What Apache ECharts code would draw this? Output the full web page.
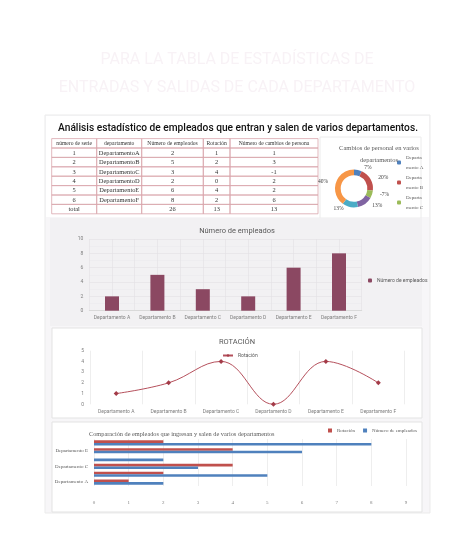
<!DOCTYPE html>
<html><head><meta charset="utf-8">
<script src="https://cdn.jsdelivr.net/npm/echarts@6/dist/echarts.min.js"></script>
<style>html,body{margin:0;padding:0;background:#fff}#c{width:474px;height:551px}</style>
</head><body><div id="c"></div>
<script>
// ---- data ----
const departments = ['Departamento A','Departamento B','Departamento C','Departamento D','Departamento E','Departamento F'];
const tableDeptNames = ['DepartamentoA','DepartamentoB','DepartamentoC','DepartamentoD','DepartamentoE','DepartamentoF'];
const serialNumbers = [1,2,3,4,5,6];
const employees = [2,5,3,2,6,8];
const rotation = [1,2,4,0,4,2];
const staffChanges = [1,3,-1,2,2,6];
const tableHeaders = ['número de serie','departamento','Número de empleados','Rotación','Número de cambios de persona'];
const totalLabel = 'total';
const totals = [26,13,13];
const barTicks = [0,2,4,6,8,10];
const lineTicks = [0,1,2,3,4,5];
const hbarTicks = [0,1,2,3,4,5,6,7,8,9];

const pieColors = ['#4f81bd','#c0504d','#9bbb59','#8064a2','#4bacc6','#f79646'];
const serif = '"Liberation Serif","DejaVu Serif",serif';
const sans = 'Roboto,"Noto Sans",sans-serif';

const chart = echarts.init(document.getElementById('c'));

// ---- graphic: panels, headings, table ----
const g = [];
g.push({type:'rect', z:-20, shape:{x:45,y:115,width:385,height:398}, style:{fill:'#f7f6f8', stroke:'#ebebeb', lineWidth:1}});
g.push({type:'rect', z:-19, shape:{x:46,y:116,width:383,height:101}, style:{fill:'#ffffff'}});
g.push({type:'rect', z:-18, shape:{x:320,y:137,width:101,height:81}, style:{fill:'#ffffff', stroke:'#ececec'}});
g.push({type:'rect', z:-18, shape:{x:50,y:218,width:372,height:108}, style:{fill:'#f2f1f3'}});
g.push({type:'rect', z:-18, shape:{x:52,y:328,width:370,height:90}, style:{fill:'#ffffff', stroke:'#e3e3e3'}});
g.push({type:'rect', z:-18, shape:{x:52,y:422,width:370,height:90}, style:{fill:'#ffffff', stroke:'#e3e3e3'}});

g.push({type:'text', z:-15, style:{text:'PARA LA TABLA DE ESTADÍSTICAS DE', x:237, y:60, textAlign:'center', textVerticalAlign:'middle', font:'16px '+sans, fill:'#f8f2f6'}});
g.push({type:'text', z:-15, style:{text:'ENTRADAS Y SALIDAS DE CADA DEPARTAMENTO', x:237, y:88, textAlign:'center', textVerticalAlign:'middle', font:'16px '+sans, fill:'#f8f2f6'}});
g.push({type:'text', z:5, style:{text:'Análisis estadístico de empleados que entran y salen de varios departamentos.', x:238, y:128, textAlign:'center', textVerticalAlign:'middle', font:'500 10.2px '+sans, fill:'#111'}});

const colX = [51.7, 96.7, 141.7, 203.3, 230, 318];
const rowTop = 138.6, rowH = 9.4;
const tableRows = [tableHeaders]
  .concat(serialNumbers.map((s,i)=>[s, tableDeptNames[i], employees[i], rotation[i], staffChanges[i]]))
  .concat([[totalLabel, ''].concat(totals)]);
tableRows.forEach((row, r) => {
  row.forEach((cell, c) => {
    const x = colX[c], w = colX[c+1] - colX[c], y = rowTop + r*rowH;
    g.push({type:'rect', z:-5, shape:{x:x, y:y, width:w, height:rowH}, style:{fill:'none', stroke:'#d9a6ac', lineWidth:0.8}});
    g.push({type:'text', z:-4, style:{text:String(cell), x:x+w/2, y:y+rowH/2+0.5, textAlign:'center', textVerticalAlign:'middle',
      font:(r===0?'5.6px ':'6.4px ')+serif, fill:'#333'}});
  });
});

const absSum = staffChanges.reduce((a,b)=>a+Math.abs(b),0);
const pieData = departments.map((n,i)=>({name:n, value:Math.abs(staffChanges[i]), raw:staffChanges[i]}));

const axisLbl = {fontSize:5, color:'#7f7f7f', fontFamily:sans};

const option = {
  animation:false,
  graphic:{elements:g},
  title:[
    {text:'Cambios de personal en varios\ndepartamentos', left:374, top:137, textAlign:'center',
     textStyle:{fontSize:6.5, fontWeight:'normal', color:'#595959', fontFamily:serif, lineHeight:12}},
    {text:'Número de empleados', left:'center', top:222, textStyle:{fontSize:7.5, fontWeight:'normal', color:'#595959', fontFamily:sans}},
    {text:'ROTACIÓN', left:'center', top:333, textStyle:{fontSize:7.5, fontWeight:'normal', color:'#595959', fontFamily:sans}},
    {text:'Comparación de empleados que ingresan y salen de varios departamentos', left:84, top:426,
     textStyle:{fontSize:6.3, fontWeight:'normal', color:'#595959', fontFamily:serif}}
  ],
  legend:[
    {data:departments.slice(0,3), orient:'vertical', left:397, top:153, itemWidth:4, itemHeight:4, itemGap:1,
     formatter:n=>n.slice(0,7)+'\n'+n.slice(7),
     textStyle:{fontSize:5, color:'#595959', fontFamily:serif, lineHeight:9.5}, padding:0},
    {data:['Número de empleados'], left:368, top:278, itemWidth:4, itemHeight:4, padding:0,
     textStyle:{fontSize:5, color:'#595959', fontFamily:sans}},
    {data:[{name:'Rotación'}], left:222, top:353, itemWidth:10, itemHeight:4, padding:0,
     textStyle:{fontSize:5, color:'#595959', fontFamily:sans}},
    {data:[{name:'Rotación', icon:'rect', itemStyle:{color:'#c0504d'}}, {name:'Número de empleados', icon:'rect', itemStyle:{color:'#4f81bd'}}],
     left:328, top:428, itemWidth:4, itemHeight:4, itemGap:8, padding:0,
     textStyle:{fontSize:5, color:'#595959', fontFamily:serif}}
  ],
  grid:[
    {left:89.3, top:239, width:272.4, height:71.7},
    {left:90, top:350.7, width:314.5, height:53.6},
    {left:94, top:439, width:312, height:47}
  ],
  xAxis:[
    {gridIndex:0, type:'category', data:departments, axisTick:{show:false}, axisLine:{lineStyle:{color:'#d9d9d9'}},
     axisLabel:Object.assign({margin:5, interval:0}, axisLbl), splitLine:{show:false}},
    {gridIndex:0, type:'value', min:0, max:12, interval:1, position:'bottom', axisLabel:{show:false}, axisLine:{show:false},
     axisTick:{show:false}, splitLine:{show:true, lineStyle:{color:'#e2e0e4', width:0.6}}},
    {gridIndex:1, type:'category', data:departments, axisTick:{show:false}, axisLine:{show:false},
     axisLabel:Object.assign({margin:5, interval:0}, axisLbl), splitLine:{show:true, lineStyle:{color:'#e6e6e6', width:0.7}}},
    {gridIndex:2, type:'value', min:hbarTicks[0], max:hbarTicks[hbarTicks.length-1], interval:1, axisLine:{show:false}, axisTick:{show:false},
     axisLabel:Object.assign({}, axisLbl, {margin:14, fontFamily:serif}), splitLine:{show:true, lineStyle:{color:'#e6e6e6', width:0.7}}}
  ],
  yAxis:[
    {gridIndex:0, type:'value', min:barTicks[0], max:barTicks[barTicks.length-1], interval:2, axisLabel:Object.assign({margin:6}, axisLbl),
     axisLine:{show:false}, axisTick:{show:false}, splitLine:{lineStyle:{color:'#e2e0e4', width:0.6}},
     minorTick:{show:false, splitNumber:2}, minorSplitLine:{show:true, lineStyle:{color:'#ebe9ed', width:0.5}}},
    {gridIndex:1, type:'value', min:lineTicks[0], max:lineTicks[lineTicks.length-1], interval:1, axisLabel:Object.assign({margin:6}, axisLbl),
     axisLine:{show:false}, axisTick:{show:false}, splitLine:{show:false}},
    {gridIndex:2, type:'category', data:departments, axisLine:{show:false}, axisTick:{show:false},
     axisLabel:Object.assign({}, axisLbl, {interval:1, margin:6, fontFamily:serif, color:'#595959'}), splitLine:{show:false}}
  ],
  series:[
    {type:'pie', name:'Cambios', center:[354,188.5], radius:[13.3,19], startAngle:90, clockwise:true,
     avoidLabelOverlap:false, data:pieData, color:pieColors,
     itemStyle:{borderWidth:0},
     label:{show:true, position:'outside', fontSize:5.5, color:'#404040', fontFamily:serif,
       formatter:p=>Math.round(p.data.raw/absSum*100)+'%'},
     labelLine:{show:false, length:2, length2:1}},
    {type:'bar', name:'Número de empleados', xAxisIndex:0, yAxisIndex:0, data:employees, barWidth:14,
     itemStyle:{color:'#8b4862'}},
    {type:'line', name:'Rotación', xAxisIndex:2, yAxisIndex:1, data:rotation, smooth:0.4,
     symbol:'diamond', symbolSize:5, lineStyle:{color:'#b5505c', width:1}, itemStyle:{color:'#a33b48'}},
    {type:'bar', name:'Rotación', xAxisIndex:3, yAxisIndex:2, data:rotation, barWidth:2.6, barGap:'0%',
     itemStyle:{color:'#c0504d'}},
    {type:'bar', name:'Número de empleados', xAxisIndex:3, yAxisIndex:2, data:employees, barWidth:2.6, barGap:'0%',
     itemStyle:{color:'#4f81bd'}}
  ]
};
chart.setOption(option);
</script></body></html>
